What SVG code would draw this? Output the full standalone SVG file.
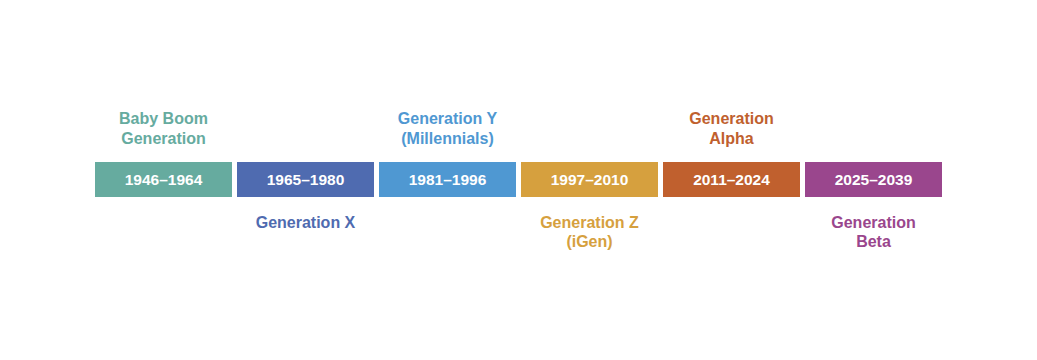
<svg xmlns="http://www.w3.org/2000/svg" width="1037" height="360" viewBox="0 0 1037 360">
<style>
text{font-family:"Liberation Sans",Arial,sans-serif;font-weight:bold;text-anchor:middle;font-size:16px}
.yr{fill:#ffffff;font-size:15.5px}
.c1{fill:#66ab9f}.c2{fill:#4f6bb0}.c3{fill:#4f98d2}.c4{fill:#d6a03e}.c5{fill:#c0602e}.c6{fill:#9a468d}
</style>
<rect width="1037" height="360" fill="#ffffff"/>
<g id="connectors"></g>
<g id="baby-boom">
<rect class="c1" x="95" y="162" width="137" height="35"/>
<text class="yr" x="163.5" y="185">1946–1964</text>
<text class="c1" x="163.5" y="124">Baby Boom</text>
<text class="c1" x="163.5" y="144">Generation</text>
</g>
<g id="gen-x">
<rect class="c2" x="237" y="162" width="137" height="35"/>
<text class="yr" x="305.5" y="185">1965–1980</text>
<text class="c2" x="305.5" y="228">Generation X</text>
</g>
<g id="gen-y">
<rect class="c3" x="379" y="162" width="137" height="35"/>
<text class="yr" x="447.5" y="185">1981–1996</text>
<text class="c3" x="447.5" y="124">Generation Y</text>
<text class="c3" x="447.5" y="144">(Millennials)</text>
</g>
<g id="gen-z">
<rect class="c4" x="521" y="162" width="137" height="35"/>
<text class="yr" x="589.5" y="185">1997–2010</text>
<text class="c4" x="589.5" y="228">Generation Z</text>
<text class="c4" x="589.5" y="247">(iGen)</text>
</g>
<g id="gen-alpha">
<rect class="c5" x="663" y="162" width="137" height="35"/>
<text class="yr" x="731.5" y="185">2011–2024</text>
<text class="c5" x="731.5" y="124">Generation</text>
<text class="c5" x="731.5" y="144">Alpha</text>
</g>
<g id="gen-beta">
<rect class="c6" x="805" y="162" width="137" height="35"/>
<text class="yr" x="873.5" y="185">2025–2039</text>
<text class="c6" x="873.5" y="228">Generation</text>
<text class="c6" x="873.5" y="247">Beta</text>
</g>
</svg>
